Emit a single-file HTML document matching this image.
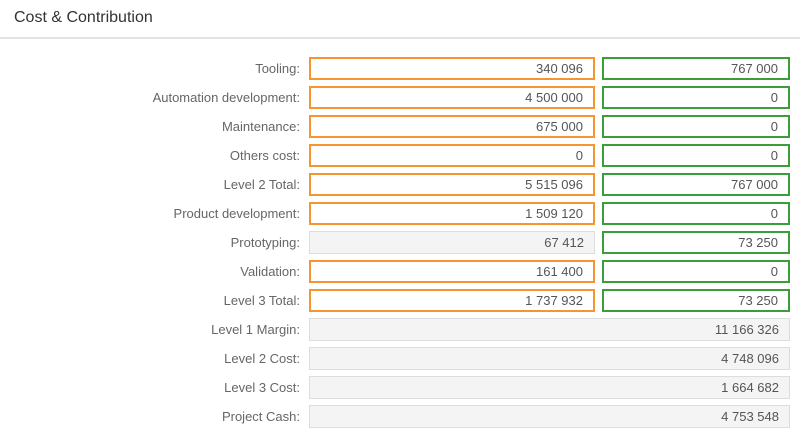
<!DOCTYPE html>
<html><head><style>
body{margin:0;width:800px;height:439px;background:#fff;font-family:"Liberation Sans",Arial,sans-serif;position:relative;overflow:hidden}
.t{position:absolute;left:14px;top:9px;font-size:16px;color:#333}
.hr{position:absolute;left:0;top:37px;width:800px;height:2px;background:#e3e3e3}
.l{position:absolute;right:500px;font-size:13px;color:#666;line-height:23px;white-space:nowrap}
.b{position:absolute;box-sizing:border-box;height:23px;font-size:13px;color:#555;text-align:right;padding-right:10px;line-height:20px}
.o{border:2px solid #f5952f;background:#fff;left:309px;width:286px}
.g{border:2px solid #3a9f3a;background:#fff;left:602px;width:188px}
.s{border:1px solid #ddd;background:#f4f4f4;left:309px;width:286px;line-height:21px}
.w{border:1px solid #ddd;background:#f4f4f4;left:309px;width:481px;line-height:21px}
</style></head><body>
<div class="t">Cost &amp; Contribution</div>
<div class="hr"></div>

<div class="l" style="top:57px">Tooling:</div><div class="b o" style="top:57px">340 096</div><div class="b g" style="top:57px">767 000</div>
<div class="l" style="top:86px">Automation development:</div><div class="b o" style="top:86px">4 500 000</div><div class="b g" style="top:86px">0</div>
<div class="l" style="top:115px">Maintenance:</div><div class="b o" style="top:115px">675 000</div><div class="b g" style="top:115px">0</div>
<div class="l" style="top:144px">Others cost:</div><div class="b o" style="top:144px">0</div><div class="b g" style="top:144px">0</div>
<div class="l" style="top:173px">Level 2 Total:</div><div class="b o" style="top:173px">5 515 096</div><div class="b g" style="top:173px">767 000</div>
<div class="l" style="top:202px">Product development:</div><div class="b o" style="top:202px">1 509 120</div><div class="b g" style="top:202px">0</div>
<div class="l" style="top:231px">Prototyping:</div><div class="b s" style="top:231px">67 412</div><div class="b g" style="top:231px">73 250</div>
<div class="l" style="top:260px">Validation:</div><div class="b o" style="top:260px">161 400</div><div class="b g" style="top:260px">0</div>
<div class="l" style="top:289px">Level 3 Total:</div><div class="b o" style="top:289px">1 737 932</div><div class="b g" style="top:289px">73 250</div>
<div class="l" style="top:318px">Level 1 Margin:</div><div class="b w" style="top:318px">11 166 326</div>
<div class="l" style="top:347px">Level 2 Cost:</div><div class="b w" style="top:347px">4 748 096</div>
<div class="l" style="top:376px">Level 3 Cost:</div><div class="b w" style="top:376px">1 664 682</div>
<div class="l" style="top:405px">Project Cash:</div><div class="b w" style="top:405px">4 753 548</div>
</body></html>
